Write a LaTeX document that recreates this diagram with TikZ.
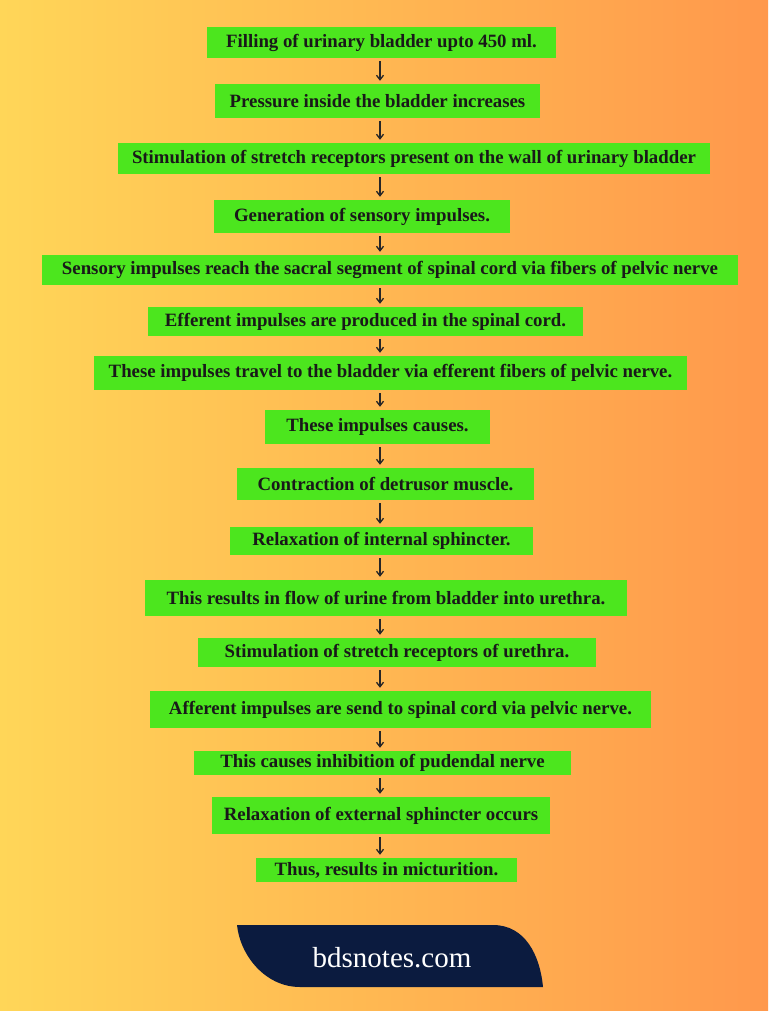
\documentclass[tikz,border=0pt]{standalone}
\usepackage{fontspec}
\setmainfont{Liberation Serif}
\usetikzlibrary{arrows.meta}
\definecolor{bgleft}{RGB}{255,214,88}
\definecolor{bgright}{RGB}{255,152,76}
\definecolor{boxgreen}{RGB}{76,230,30}
\definecolor{navy}{RGB}{11,27,63}
\begin{document}
\begin{tikzpicture}[x=1pt,y=-1pt,
    stepbox/.style={fill=boxgreen,inner sep=0pt,align=center,text=black!90,
        font=\fontsize{18.8}{21}\selectfont\bfseries},
    arr/.style={-{Straight Barb[length=4.5pt,width=7pt]},line width=1.3pt,
        black!85,shorten <=3pt,shorten >=3pt}]
    % background
    \shade[left color=bgleft,right color=bgright] (0,0) rectangle (768,1011);
    \useasboundingbox (0,0) rectangle (768,1011);
    \coordinate (ax) at (380,0);
    % steps
    \node[stepbox,minimum width=349pt,minimum height=31pt] (b1) at (381.5,42.5) {Filling of urinary bladder upto 450 ml.};
    \node[stepbox,minimum width=325pt,minimum height=34pt] (b2) at (377.5,101) {Pressure inside the bladder increases};
    \node[stepbox,minimum width=592pt,minimum height=31pt] (b3) at (414,158.5) {Stimulation of stretch receptors present on the wall of urinary bladder};
    \node[stepbox,minimum width=296pt,minimum height=33pt] (b4) at (362,216.5) {Generation of sensory impulses.};
    \node[stepbox,minimum width=696pt,minimum height=30pt] (b5) at (390,270) {Sensory impulses reach the sacral segment of spinal cord via fibers of pelvic nerve};
    \node[stepbox,minimum width=435pt,minimum height=29pt] (b6) at (365.5,321.5) {Efferent impulses are produced in the spinal cord.};
    \node[stepbox,minimum width=593pt,minimum height=34pt] (b7) at (390.5,373) {These impulses travel to the bladder via efferent fibers of pelvic nerve.};
    \node[stepbox,minimum width=225pt,minimum height=34pt] (b8) at (377.5,427) {These impulses causes.};
    \node[stepbox,minimum width=297pt,minimum height=32pt] (b9) at (385.5,484) {Contraction of detrusor muscle.};
    \node[stepbox,minimum width=303pt,minimum height=28pt] (b10) at (381.5,541) {Relaxation of internal sphincter.};
    \node[stepbox,minimum width=482pt,minimum height=36pt] (b11) at (386,598) {This results in flow of urine from bladder into urethra.};
    \node[stepbox,minimum width=398pt,minimum height=29pt] (b12) at (397,652.5) {Stimulation of stretch receptors of urethra.};
    \node[stepbox,minimum width=501pt,minimum height=37pt] (b13) at (400.5,709.5) {Afferent impulses are send to spinal cord via pelvic nerve.};
    \node[stepbox,minimum width=377pt,minimum height=24pt] (b14) at (382.5,763) {This causes inhibition of pudendal nerve};
    \node[stepbox,minimum width=338pt,minimum height=37pt] (b15) at (381,815.5) {Relaxation of external sphincter occurs};
    \node[stepbox,minimum width=261pt,minimum height=24pt] (b16) at (386.5,870) {Thus, results in micturition.};
    % arrows
    \foreach \i [count=\j from 2] in {1,...,15}
        \draw[arr] (b\i.south -| ax) -- (b\j.north -| ax);
    % footer
    \fill[navy] (237,925) -- (493,925) .. controls (525,925) and (540,955) .. (543,987)
        -- (300,987) .. controls (265,987) and (240,955) .. (237,925) -- cycle;
    \node[text=white,font=\fontsize{29}{32}\selectfont] (site) at (392,958) {bdsnotes.com};
\end{tikzpicture}
\end{document}
